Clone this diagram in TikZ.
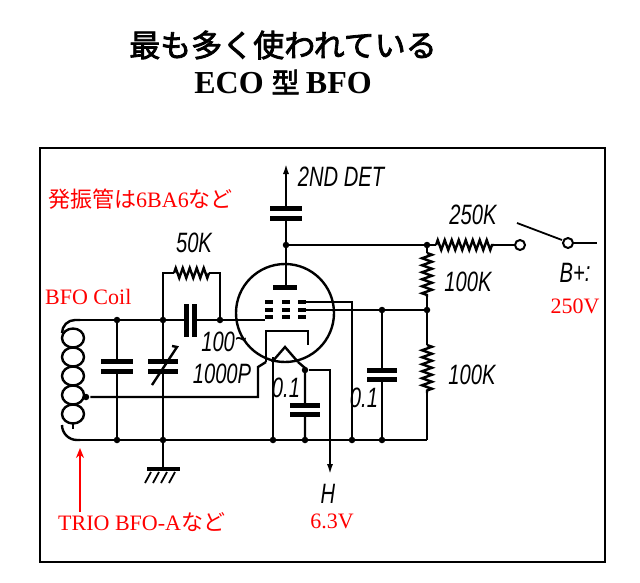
\documentclass[tikz,border=0pt]{standalone}
\usepackage{fontspec}
\setmainfont{Liberation Serif}
\newfontfamily\jp[AutoFakeBold=2.5]{Noto Sans CJK JP}
\newfontfamily\jpl{Noto Sans CJK JP}
\newfontfamily\lab{Liberation Sans}
\usetikzlibrary{decorations.pathmorphing,arrows.meta}
\begin{document}
\begin{tikzpicture}[x=1pt,y=-1pt,line width=2.4pt,
  res/.style={decorate,decoration={zigzag,segment length=7pt,amplitude=5pt}},
  dot/.style={circle,fill=black,inner sep=0pt,minimum size=6.5pt},
  term/.style={circle,draw,fill=white,inner sep=0pt,minimum size=10pt,line width=2pt},
  lbl/.style={font=\lab\itshape\fontsize{28}{28}\selectfont,inner sep=0pt,xscale=0.72},
  redtxt/.style={text=red,font=\fontsize{22}{22}\selectfont,inner sep=0pt},
  plate/.style={line width=5pt}]
\useasboundingbox (0,0) rectangle (640,582);
% title
\node (t1) at (283,45) {\jp\bfseries\fontsize{31}{31}\selectfont 最も多く使われている};
\node (t2) at (283,82) {\bfseries\fontsize{32}{32}\selectfont ECO \jp\fontsize{28}{28}\selectfont 型\ \rmfamily\bfseries\fontsize{32}{32}\selectfont BFO};
% frame
\draw (40,148) rectangle (605,562);
\coordinate (tl) at (80,320); \coordinate (bl) at (80,440);
\coordinate (c1t) at (117,320); \coordinate (c1b) at (117,440);
\coordinate (vct) at (163,320); \coordinate (vcb) at (163,440);
\coordinate (gj) at (220,320); \coordinate (gg) at (265,320);
\coordinate (pj) at (286,245); \coordinate (rj) at (427,245);
\coordinate (sj) at (427,310); \coordinate (cj) at (382,310);
% coil
\foreach \yy in {338,357,376,395,414} \draw (73,\yy) ellipse (11pt and 9.5pt);
\draw (tl) -- (75,320) arc (90:180:13pt) -- (62,333);
\draw (62,425) arc (180:270:15pt) -- (bl);
\draw (73,423) -- (73,429);
\node[dot] (tap) at (86,397) {};
% top wire
\draw (tl) -- (c1t) -- (vct) -- (184,320);
\draw (196,320) -- (gj) -- (gg);
\draw[plate] (186,304) -- (186,337); \draw[plate] (194,304) -- (194,337);
\node[dot] at (c1t) {}; \node[dot] at (vct) {}; \node[dot] at (gj) {};
% bottom wire
\draw (bl) -- (427,440);
\foreach \xx in {117,163,273,305,352,382} \node[dot] at (\xx,440) {};
% C1
\draw (c1t) -- (117,361) (117,371) -- (c1b);
\draw[plate] (101,361) -- (133,361); \draw[plate] (101,371) -- (133,371);
% var cap
\draw (vct) -- (163,361) (163,371) -- (vcb);
\draw[plate] (148,361) -- (178,361); \draw[plate] (148,371) -- (178,371);
\draw (152,385) -- (177,347) -- (172,346);
% ground
\draw (vcb) -- (163,467);
\draw[line width=4.5pt] (147,469) -- (180,469);
\foreach \xx in {151,159,167,175} \draw[line width=1.8pt] (\xx,472) -- (\xx-6,483);
% 50K
\draw (vct) |- (174,273);
\draw[res] (174,273) -- (209,273);
\draw (209,273) -| (gj);
\node[lbl] (l50) at (194,243) {50K};
\node[lbl] (l100p) at (224,342) {100\raisebox{0.2ex}{\textasciitilde}};
\node[lbl] (l1000) at (222,374) {1000P};
% tube
\draw (285,313) circle (49pt);
\draw[plate] (273,287) -- (297,287);
\foreach \yy in {302,310,317} \foreach \xx in {265,282,298} \draw[line width=3.5pt] (\xx,\yy) -- (\xx+8,\yy);
\draw (266,362) -- (266,331) -- (308,331) -- (308,345);
\draw (272,362) -- (285,347) -- (298,362);
% cathode lead
\draw (266,362) -- (258,367) -- (258,397) -- (tap);
% plate lead
\draw (pj) -- (286,287);
\draw (pj) -- (286,218) (286,208) -- (286,170);
\draw[plate] (270,208) -- (302,208); \draw[plate] (270,218) -- (302,218);
\draw[-{Latex[length=11pt,width=6pt]}] (286,185) -- (286,163);
\node[lbl,anchor=west] (ldet) at (297,177) {2ND DET};
\node[dot] at (pj) {};
\draw (pj) -- (rj);
\node[dot] at (rj) {};
% 250K & switch
\draw (rj) -- (436,245); \draw[res] (436,245) -- (494,245); \draw (494,245) -- (515,245);
\node[term] (t1a) at (520,245) {};
\node[term] (t2a) at (568,243) {};
\draw[line width=1.8pt] (517,223) -- (562,240);
\draw (t2a) -- (597,243);
\node[lbl] (l250) at (473,215) {250K};
\node[lbl] (lb) at (575,273) {B+\raisebox{0.1ex}{:}};
\node[redtxt] (v250) at (575,306) {250V};
% 100K upper
\draw (rj) -- (427,253); \draw[res] (427,253) -- (427,297); \draw (427,297) -- (sj);
\node[lbl] (l100a) at (468,282) {100K};
\node[dot] at (sj) {};
% grid lines
\draw (306,302) -- (352,302) -- (352,440);
\draw (306,310) -- (sj);
\node[dot] at (cj) {};
% 0.1 cap right
\draw (cj) -- (382,370) (382,379) -- (382,440);
\draw[plate] (367,370) -- (397,370); \draw[plate] (367,379) -- (397,379);
\node[lbl] (l01b) at (364,398) {0.1};
% 100K lower
\draw (sj) -- (427,345); \draw[res] (427,345) -- (427,393); \draw (427,393) -- (427,440);
\node[lbl] (l100b) at (472,375) {100K};
% heater
\draw (273,357) -- (273,440);
\draw (298,362) -- (305,368) -- (305,405) (305,414) -- (305,440);
\node[dot] (hj) at (305,370) {};
\draw[plate] (290,405) -- (320,405); \draw[plate] (290,414) -- (320,414);
\node[lbl] (l01a) at (286,388) {0.1};
\draw[-{Latex[length=11pt,width=6pt]}] (hj) -- (330,370) -- (330,475);
\node[lbl] (lh) at (328,494) {H};
\node[redtxt] (v63) at (332,521) {6.3V};
% red labels
\node[redtxt,anchor=west] (hint) at (47,199) {\jpl 発振管は\rmfamily 6BA6\jpl など};
\node[redtxt,anchor=west] (coil) at (44,297) {BFO Coil};
\node[redtxt,anchor=west] (trio) at (57,522) {TRIO BFO-A\jpl など};
\coordinate (arrtop) at (80,448);
\draw[red,line width=2.5pt,-{Stealth[length=10pt,width=8pt]}] (80,512) -- (arrtop);
\end{tikzpicture}
\end{document}
